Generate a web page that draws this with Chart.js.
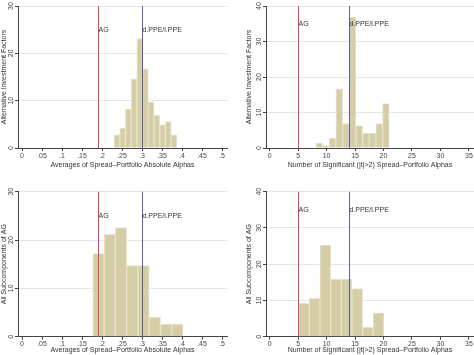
<!DOCTYPE html>
<html><head><meta charset="utf-8">
<script src="https://cdn.jsdelivr.net/npm/chart.js@4/dist/chart.umd.min.js"></script>
<style>
html,body{margin:0;padding:0;background:#fff;overflow:hidden;width:474px;height:355px;position:relative}
canvas{position:absolute;display:block}
</style></head><body>
<canvas id="c1" width="237" height="177" style="left:0;top:0"></canvas>
<canvas id="c2" width="250" height="177" style="left:237px;top:0"></canvas>
<canvas id="c3" width="237" height="178" style="left:0;top:177px"></canvas>
<canvas id="c4" width="250" height="178" style="left:237px;top:177px"></canvas>
<script>
// ---- data (percent of observations per bin) ----
const avgTickValues = [0, 0.05, 0.1, 0.15, 0.2, 0.25, 0.3, 0.35, 0.4, 0.45, 0.5];
const avgTickLabels = ['0', '.05', '.1', '.15', '.2', '.25', '.3', '.35', '.4', '.45', '.5'];
const cntTickValues = [0, 5, 10, 15, 20, 25, 30, 35];
const cntTickLabels = ['0', '5', '10', '15', '20', '25', '30', '35'];

const factorsAvgBinEdges = [0.2300, 0.2443, 0.2586, 0.2729, 0.2871, 0.3014, 0.3157, 0.3300, 0.3443, 0.3586, 0.3729, 0.3871];
const factorsAvgPct      = [2.8, 4.2, 8.3, 14.6, 23.1, 16.7, 9.7, 6.9, 4.9, 5.6, 2.8];

const factorsCntBinEdges = [8.13, 9.30, 10.47, 11.64, 12.81, 13.98, 15.15, 16.32, 17.49, 18.66, 19.83, 21.00];
const factorsCntPct      = [1.4, 0.7, 2.8, 16.7, 6.9, 36.9, 6.3, 4.2, 4.2, 6.9, 12.5];

const subsAvgBinEdges = [0.1770, 0.2052, 0.2334, 0.2616, 0.2898, 0.3180, 0.3462, 0.3744, 0.4026];
const subsAvgPct      = [17.2, 21.2, 22.6, 14.7, 14.7, 4.0, 2.6, 2.6];

const subsCntBinEdges = [5.10, 6.97, 8.84, 10.71, 12.58, 14.45, 16.32, 18.19, 20.06];
const subsCntPct      = [9.2, 10.6, 25.3, 15.9, 15.9, 13.3, 2.6, 6.6];

const avgRefLines = [{value: 0.19, label: 'AG', kind: 'ag'}, {value: 0.30, label: 'd.PPE/l.PPE', kind: 'ppe'}];
const cntRefLines = [{value: 5, label: 'AG', kind: 'ag'}, {value: 14, label: 'd.PPE/l.PPE', kind: 'ppe'}];

const titleAvg = 'Averages of Spread\u2013Portfolio Absolute Alphas';
const titleCnt = 'Number of Significant (|t|>2) Spread\u2013Portfolio Alphas';
const titleFactors = 'Alternative Investment Factors';
const titleSubs = 'All Subcomponents of AG';

// ---- styles ----
const FONT = '"Liberation Sans", Arial, Helvetica, sans-serif';
const BAR = 'rgb(213,205,166)';
const BAR_EDGE = 'rgb(232,227,206)';
const AXIS = '#444';
const GRID = '#e6e6e6';
const LINE_COLORS = {ag: 'rgb(224,70,80)', ppe: 'rgb(92,92,168)'};

const stataPlugin = {
  id: 'stata',
  afterDatasetsDraw(chart, args, opts) {
    const ctx = chart.ctx, xs = chart.scales.x, ys = chart.scales.y, a = chart.chartArea;
    ctx.save();
    ctx.font = '7px ' + FONT;
    ctx.textBaseline = 'middle';
    opts.lines.forEach(l => {
      const px = Math.round(xs.getPixelForValue(l.value)) + 0.5;
      ctx.strokeStyle = LINE_COLORS[l.kind];
      ctx.lineWidth = 1;
      ctx.beginPath(); ctx.moveTo(px, a.top); ctx.lineTo(px, a.bottom); ctx.stroke();
      ctx.fillStyle = '#333';
      ctx.textAlign = 'left';
      ctx.fillText(l.label, px, ys.getPixelForValue(opts.labelAt));
    });
    ctx.restore();
  },
  afterDraw(chart) {
    const ctx = chart.ctx, ys = chart.scales.y, a = chart.chartArea;
    ctx.save();
    ctx.font = '7px ' + FONT;
    ctx.fillStyle = '#444';
    ctx.textAlign = 'center'; ctx.textBaseline = 'middle';
    ys.ticks.forEach(t => {
      ctx.save();
      ctx.translate(a.left - 7, ys.getPixelForValue(t.value));
      ctx.rotate(-Math.PI / 2);
      ctx.fillText(String(t.value), 0, 0);
      ctx.restore();
    });
    ctx.restore();
  }
};

function makeChart(id, o) {
  const pts = o.pct.map((v, i) => ({x: (o.edges[i] + o.edges[i + 1]) / 2, y: v}));
  return new Chart(document.getElementById(id), {
    type: 'bar',
    data: {datasets: [{
      data: pts, backgroundColor: BAR, borderColor: BAR_EDGE, borderWidth: 1,
      barPercentage: 1, categoryPercentage: 1
    }]},
    options: {
      responsive: false, animation: false, events: [],
      layout: {padding: {top: o.padTop, right: o.padRight, left: 0, bottom: 0}},
      plugins: {legend: {display: false}, tooltip: {enabled: false},
        stata: {lines: o.refLines, labelAt: o.labelAt}},
      scales: {
        x: {
          type: 'linear', min: o.xMin, max: o.xMax, offset: false,
          afterBuildTicks: s => { s.ticks = o.tickValues.map(v => ({value: v})); },
          afterFit: s => { s.height = o.xH; },
          grid: {drawOnChartArea: false, drawTicks: true, tickLength: 3, tickColor: AXIS, offset: false},
          border: {color: AXIS, width: 1},
          ticks: {font: {family: FONT, size: 7}, color: '#444', padding: 0.5,
            maxRotation: 0, minRotation: 0, autoSkip: false,
            callback: (v, i) => o.tickLabels[i]},
          title: {display: true, text: o.xTitle, color: '#333', font: {family: FONT, size: 7},
            padding: {top: 0, bottom: o.xTitlePad}}
        },
        y: {
          min: 0, max: o.yMax,
          ticks: {stepSize: 10, color: 'rgba(0,0,0,0)', font: {family: FONT, size: 5}},
          afterFit: s => { s.width = o.yW; },
          grid: {color: GRID, tickLength: 3, tickColor: AXIS},
          border: {color: AXIS, width: 1},
          title: {display: true, text: o.yTitle, color: '#333', font: {family: FONT, size: 7},
            padding: {top: o.yTitlePad, bottom: 0}}
        }
      }
    },
    plugins: [stataPlugin]
  });
}

makeChart('c1', {edges: factorsAvgBinEdges, pct: factorsAvgPct, refLines: avgRefLines, labelAt: 25,
  tickValues: avgTickValues, tickLabels: avgTickLabels, xMin: -0.01, xMax: 0.5125, yMax: 30,
  padTop: 4, padRight: 10, xH: 29, yW: 18, xTitle: titleAvg, yTitle: titleFactors, xTitlePad: 8, yTitlePad: 0});
makeChart('c2', {edges: factorsCntBinEdges, pct: factorsCntPct, refLines: cntRefLines, labelAt: 35,
  tickValues: cntTickValues, tickLabels: cntTickLabels, xMin: -0.65, xMax: 35.9, yMax: 40,
  padTop: 4, padRight: 13, xH: 29, yW: 29, xTitle: titleCnt, yTitle: titleFactors, xTitlePad: 8, yTitlePad: 8.3});
makeChart('c3', {edges: subsAvgBinEdges, pct: subsAvgPct, refLines: avgRefLines, labelAt: 25,
  tickValues: avgTickValues, tickLabels: avgTickLabels, xMin: -0.01, xMax: 0.5125, yMax: 30,
  padTop: 14.7, padRight: 10, xH: 18.3, yW: 18, xTitle: titleAvg, yTitle: titleSubs, xTitlePad: 0.8, yTitlePad: 0});
makeChart('c4', {edges: subsCntBinEdges, pct: subsCntPct, refLines: cntRefLines, labelAt: 35,
  tickValues: cntTickValues, tickLabels: cntTickLabels, xMin: -0.65, xMax: 35.9, yMax: 40,
  padTop: 14.7, padRight: 13, xH: 18.3, yW: 29, xTitle: titleCnt, yTitle: titleSubs, xTitlePad: 0.8, yTitlePad: 8.3});
</script>
</body></html>
